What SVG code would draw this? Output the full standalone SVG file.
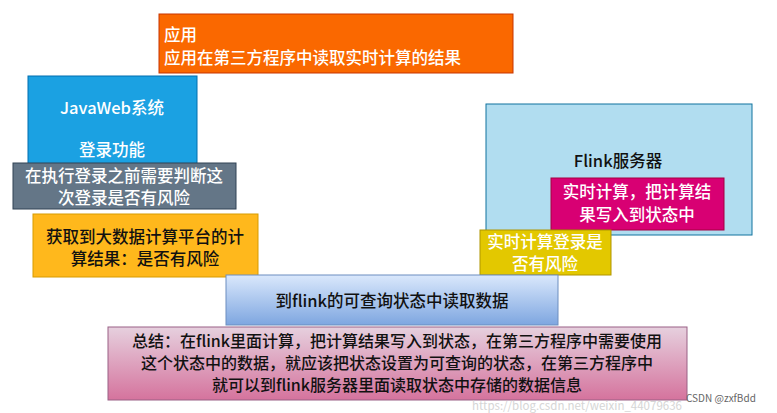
<svg xmlns="http://www.w3.org/2000/svg" width="777" height="413" viewBox="0 0 777 413">
<defs>
<linearGradient id="gb" x1="0" y1="0" x2="0" y2="1"><stop offset="0" stop-color="#dae8fc"/><stop offset="1" stop-color="#7ea6e0"/></linearGradient>
<linearGradient id="gp" x1="0" y1="0" x2="0" y2="1"><stop offset="0" stop-color="#e6d0de"/><stop offset="1" stop-color="#d5739d"/></linearGradient>
</defs>
<style>
text{font-family:"Noto Sans CJK SC","Liberation Sans",sans-serif;font-size:16.5px;font-weight:500}
.w{fill:#fff}.d{fill:#111}.s{font-size:16px}
</style>
<rect width="777" height="413" fill="#fff"/>
<g id="app"><rect x="159" y="14" width="354" height="59" fill="#fa6800" stroke="#c73500"/>
<text class="w" x="164" y="41">应用</text><text class="w" x="164" y="64">应用在第三方程序中读取实时计算的结果</text></g>
<g id="javaweb"><rect x="28" y="76" width="169" height="95" fill="#1ba1e2" stroke="#006eaf"/>
<text class="w" x="112" y="114" text-anchor="middle">JavaWeb系统</text><text class="w" x="112" y="156" text-anchor="middle">登录功能</text></g>
<g id="judge"><rect x="13" y="163" width="223" height="46" fill="#647687" stroke="#314354"/>
<text class="w" x="124" y="182" text-anchor="middle">在执行登录之前需要判断这</text><text class="w" x="124" y="204" text-anchor="middle">次登录是否有风险</text></g>
<g id="result"><rect x="33" y="214" width="225" height="63" fill="#ffb81c" stroke="#d79b00"/>
<text class="d" x="145" y="243" text-anchor="middle">获取到大数据计算平台的计</text><text class="d" x="145" y="265" text-anchor="middle">算结果：是否有风险</text></g>
<g id="flink"><rect x="486" y="104" width="266" height="131" fill="#b1ddf0" stroke="#10739e"/>
<text class="d" x="618" y="167" text-anchor="middle">Flink服务器</text></g>
<g id="realtime"><rect x="551" y="178" width="173" height="52" fill="#d80073" stroke="#a50040"/>
<text class="w" x="637" y="198" text-anchor="middle">实时计算，把计算结</text><text class="w" x="637" y="221" text-anchor="middle">果写入到状态中</text></g>
<g id="loginrisk"><rect x="480" y="230" width="131" height="45" fill="#e3c800" stroke="#b09500"/>
<text class="w" x="545" y="248" text-anchor="middle">实时计算登录是</text><text class="w" x="545" y="270" text-anchor="middle">否有风险</text></g>
<g id="query"><rect x="226" y="275" width="332" height="50" fill="url(#gb)" stroke="#6c8ebf"/>
<text class="d" x="392" y="307" text-anchor="middle">到flink的可查询状态中读取数据</text></g>
<g id="summary"><rect x="108" y="327" width="579" height="73" fill="url(#gp)" stroke="#996185"/>
<text class="d s" x="397" y="347" text-anchor="middle">总结：在flink里面计算，把计算结果写入到状态，在第三方程序中需要使用</text>
<text class="d s" x="397" y="369" text-anchor="middle">这个状态中的数据，就应该把状态设置为可查询的状态，在第三方程序中</text>
<text class="d s" x="397" y="391" text-anchor="middle">就可以到flink服务器里面读取状态中存储的数据信息</text></g>
<g id="connectors"></g>
<text x="472" y="410" style="font-size:11.5px;font-weight:400" fill="#ccc" opacity="0.8">https://blog.csdn.net/weixin_44079636</text>
<text x="686" y="402" style="font-size:10px;font-weight:400" fill="#666">CSDN @zxfBdd</text>
</svg>
